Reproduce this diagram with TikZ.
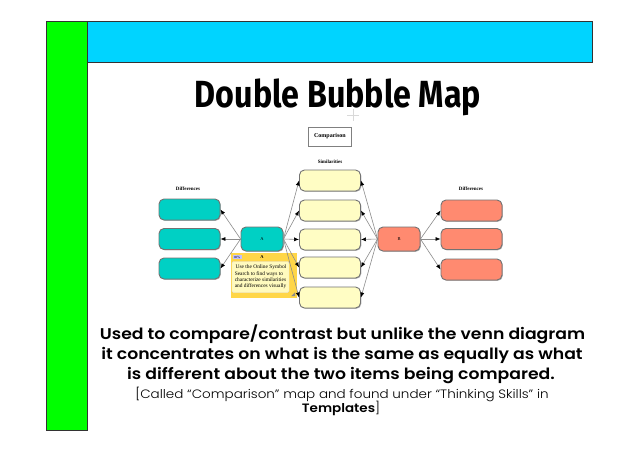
\documentclass[tikz,border=0pt]{standalone}
\usepackage{fontspec}
\setmainfont{Poppins}
\newfontfamily\labelfont{Liberation Serif}
\newfontfamily\titlefont{Fira Sans}
\newfontfamily\semifont{Poppins SemiBold}
\newfontfamily\lightfont{Poppins Light}
\usetikzlibrary{arrows.meta,shadows}
\definecolor{framegreen}{RGB}{0,255,0}
\definecolor{frameblue}{RGB}{0,212,255}
\definecolor{teal1}{RGB}{0,208,196}
\definecolor{cream}{RGB}{255,253,196}
\definecolor{salmon1}{RGB}{255,138,112}
\definecolor{sticky}{RGB}{255,214,72}
\definecolor{stickyin}{RGB}{255,250,190}
\tikzset{
  x=1pt,y=-1pt,
  bubble/.style={draw=black!55,line width=0.9pt,rounded corners=5pt,minimum width=61pt,minimum height=21pt,inner sep=0pt,anchor=center,
     drop shadow={shadow xshift=0.8pt,shadow yshift=-0.8pt,opacity=0.3,fill=black}},
  leftbox/.style={bubble,fill=teal1},
  midbox/.style={bubble,fill=cream},
  rightbox/.style={bubble,fill=salmon1},
  hub/.style={bubble,minimum width=42pt,minimum height=24pt,font=\labelfont\fontsize{4.5}{5}\selectfont},
  link/.style={draw=black!45,line width=0.6pt,-{Latex[black,length=5pt,width=4pt]}},
  head/.style={font=\labelfont\bfseries\fontsize{5}{6}\selectfont,inner sep=0pt},
  body/.style={font=\semifont\fontsize{17.25}{20}\selectfont,anchor=base,inner sep=0pt},
  note/.style={font=\lightfont\fontsize{13.5}{15}\selectfont,anchor=base,inner sep=0pt}
}
\newcommand{\squeezed}[1]{\scalebox{1}[0.9]{#1}}
\begin{document}
\begin{tikzpicture}
\useasboundingbox (0,0) rectangle (638,451);
\fill[white] (0,0) rectangle (638,451);
% frame
\draw[fill=frameblue,draw=black!80,line width=1pt] (87,21) rectangle (592,62);
\draw[fill=framegreen,draw=black!80,line width=1pt] (46,21) rectangle (87,430);
% title
\node[inner sep=0pt] (title) at (338,97) {\scalebox{1.04}[1.22]{\titlefont\bfseries\fontsize{31}{36}\selectfont Double Bubble Map}};
% cross mark
\coordinate (crossa) at (347,115);
\coordinate (crossb) at (359,115);
\coordinate (crossc) at (353,109);
\coordinate (crossd) at (353,121);
\draw[black!15,line width=0.5pt] (crossa) -- (crossb) (crossc) -- (crossd);
% diagram
\node[draw=black!50,line width=0.8pt,fill=white,minimum width=43pt,minimum height=19pt,inner sep=0pt,font=\labelfont\bfseries\fontsize{6}{7}\selectfont,
  drop shadow={shadow xshift=0.8pt,shadow yshift=-0.8pt,opacity=0.3,fill=black}] (comp) at (330,136.5) {Comparison};
\node[head] (sim) at (330,162) {Similarities};
\node[head] (dl) at (188,189) {Differences};
\node[head] (dr) at (471,189) {Differences};
\node[leftbox] (l1) at (189.5,209.5) {};
\node[leftbox] (l2) at (189.5,239) {};
\node[leftbox] (l3) at (189.5,268.5) {};
\node[midbox] (m1) at (330,180.5) {};
\node[midbox] (m2) at (330,210.5) {};
\node[midbox] (m3) at (330,239.5) {};
\node[midbox] (m4) at (330,267.5) {};
\node[midbox] (m5) at (330,297.5) {};
\node[rightbox] (r1) at (471.5,210.5) {};
\node[rightbox] (r2) at (471.5,239) {};
\node[rightbox] (r3) at (471.5,269.5) {};
\node[hub,fill=teal1] (A) at (262,239) {A};
\node[hub,fill=salmon1] (B) at (399,239) {B};
% sticky note
\node[fill=sticky,minimum width=66pt,minimum height=45pt,inner sep=0pt] (stick) at (264,275.5) {};
\node[fill=stickyin,draw=black!12,line width=0.4pt,rounded corners=1.5pt,minimum width=57pt,minimum height=31pt,inner sep=0pt,
  align=left,font=\labelfont\fontsize{5.4}{6.3}\selectfont] (stin) at (260.5,277) {\,Use the Online Symbol\\Search to find ways to\\characterize similarities\\and differences visually};
\node[font=\labelfont\bfseries\fontsize{4.5}{5}\selectfont,inner sep=0pt] (stA) at (262,257) {A};
\node[fill=blue!25,font=\sffamily\fontsize{3}{3}\selectfont,inner sep=0.5pt,minimum width=9pt,minimum height=4pt] (badge) at (237,257) {90\%};
\fill[black!45] (stick.south east) ++(-2,-2) -- ++(-4,0) -- ++(4,-4) -- cycle;
% connectors
\foreach \t in {l1,l2,l3} \draw[link] (A.west) -- (\t.east);
\foreach \t in {m1,m2,m3,m4,m5} \draw[link] (A.east) -- (\t.west);
\foreach \t in {m1,m2,m3,m4,m5} \draw[link] (B.west) -- (\t.east);
\foreach \t in {r1,r2,r3} \draw[link] (B.east) -- (\t.west);
% body text
\node[body] (txta) at (342.5,339) {\squeezed{Used to compare/contrast but unlike the venn diagram}};
\node[body] (txtb) at (342,359) {\squeezed{it concentrates on what is the same as equally as what}};
\node[body] (txtc) at (341,379) {\squeezed{is different about the two items being compared.}};
\node[note] (refa) at (342,398) {\squeezed{[Called “Comparison” map and found under “Thinking Skills” in}};
\node[note] (refb) at (341,412) {\squeezed{\semifont Templates\lightfont]}};
\end{tikzpicture}
\end{document}
